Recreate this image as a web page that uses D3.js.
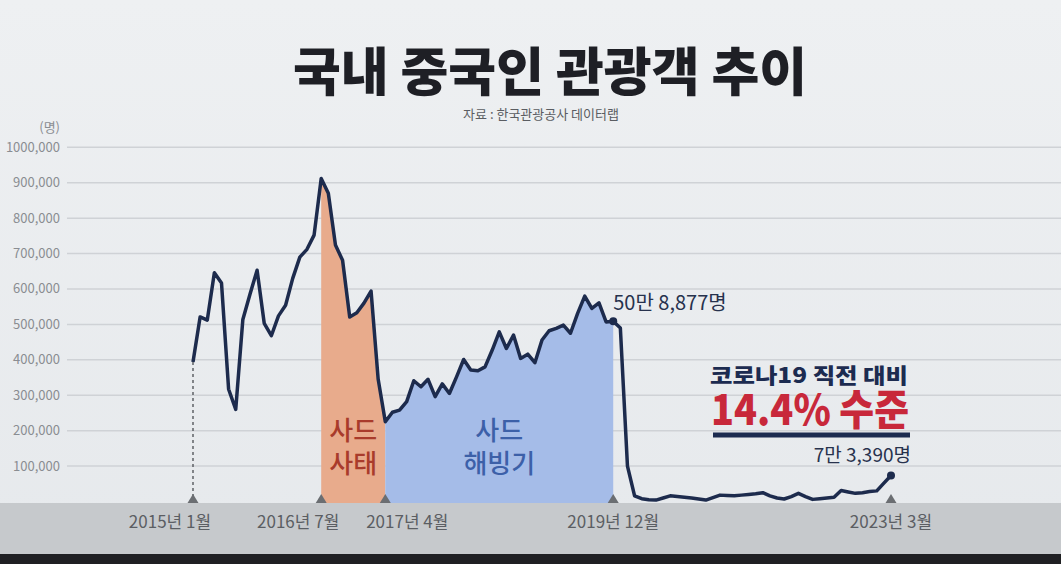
<!DOCTYPE html>
<html>
<head>
<meta charset="utf-8">
<script src="https://cdn.jsdelivr.net/npm/d3@7"></script>
<style>
  html, body { margin: 0; padding: 0; background: #e9ecef; }
  svg { display: block; font-family: "Noto Sans CJK KR", "Noto Sans", sans-serif; }
</style>
</head>
<body>
<svg id="chart" width="1061" height="564"></svg>
<script>
// DATA (월별 중국인 입국자, 2015년 1월 ~ 2023년 3월)
const startMonth = new Date(2015, 0, 1);
const visitors = [
  394000, 521000, 512000, 646000, 617000, 317000, 260000, 514000, 585000, 653000, 503000, 468000,
  524000, 554000, 630000, 690000, 712000, 752000, 912000, 870000, 724000, 681000, 521000, 533000,
  560000, 594000, 345000, 225000, 252000, 258000, 282000, 341000, 324000, 345000, 296000, 332000,
  305000, 352000, 401000, 371000, 369000, 380000, 427000, 479000, 432000, 470000, 404000, 416000,
  392000, 456000, 482000, 489000, 498000, 475000, 531000, 580000, 545000, 561000, 507000, 508877,
  490000, 100000, 16000, 8000, 5000, 4000, 10000, 16000, 14000, 12000, 10000, 7000,
  4000, 11000, 18000, 17000, 16000, 18000, 20000, 22000, 25000, 16000, 10000, 7000,
  14000, 23000, 14000, 6000, 8000, 10000, 12000, 31000, 27000, 23000, 25000, 28000,
  30000, 52000, 73390
];
const months = visitors.map((v, i) => d3.timeMonth.offset(startMonth, i));

const yTicks = [100000, 200000, 300000, 400000, 500000, 600000, 700000, 800000, 900000, 1000000];
const yTickLabels = ['100,000', '200,000', '300,000', '400,000', '500,000', '600,000', '700,000', '800,000', '900,000', '1000,000'];

const markMonths = ['2015-01', '2016-07', '2017-04', '2019-12', '2023-03'];
const markLabels = ['2015년 1월', '2016년 7월', '2017년 4월', '2019년 12월', '2023년 3월'];

// 구간 (사드 사태 / 사드 해빙기)
const periods = [
  { from: '2016-07', to: '2017-04', lines: ['사드', '사태'], fill: '#e8ab8c', text: '#a93b2b' },
  { from: '2017-04', to: '2019-12', lines: ['사드', '해빙기'], fill: '#a5bce8', text: '#3c60a8' }
];

const fmtKey = d3.timeFormat('%Y-%m');
const idxOf = key => months.findIndex(m => fmtKey(m) === key);

const svg = d3.select('#chart');
const W = 1061, H = 564;

const x = d3.scaleLinear().domain([0, visitors.length - 1]).range([193, 891]);
const y = d3.scaleLinear().domain([0, 1000000]).range([501.5, 147.3]);

// 배경
const grad = svg.append('defs').append('linearGradient')
  .attr('id', 'bg').attr('x1', 0).attr('y1', 0).attr('x2', 0).attr('y2', 1);
grad.append('stop').attr('offset', '0%').attr('stop-color', '#eef0f2');
grad.append('stop').attr('offset', '100%').attr('stop-color', '#e6e9ec');
svg.append('rect').attr('width', W).attr('height', H).attr('fill', 'url(#bg)');

// 제목
svg.append('text')
  .attr('x', 550).attr('y', 91)
  .attr('text-anchor', 'middle')
  .attr('font-size', 52).attr('font-weight', 900)
  .attr('fill', '#1e1f25')
  .text('국내 중국인 관광객 추이');

svg.append('text')
  .attr('x', 541).attr('y', 119)
  .attr('text-anchor', 'middle')
  .attr('font-size', 13)
  .attr('fill', '#5a5d62')
  .text('자료 : 한국관광공사 데이터랩');

// 그리드 + y축 라벨
const grid = svg.append('g');
grid.selectAll('line')
  .data(yTicks)
  .enter()
  .append('line')
  .attr('x1', 67).attr('x2', W)
  .attr('y1', d => y(d)).attr('y2', d => y(d))
  .attr('stroke', '#cfd2d6').attr('stroke-width', 1.5);

grid.selectAll('text')
  .data(yTicks)
  .enter()
  .append('text')
  .attr('x', 60).attr('y', d => y(d) + 4.5)
  .attr('text-anchor', 'end')
  .attr('font-size', 13)
  .attr('fill', '#8a8d92')
  .text((d, i) => yTickLabels[i]);

svg.append('text')
  .attr('x', 60).attr('y', 132)
  .attr('text-anchor', 'end')
  .attr('font-size', 13)
  .attr('fill', '#8a8d92')
  .text('(명)');

// 구간 채우기
const area = d3.area()
  .x(d => x(d.i))
  .y0(503)
  .y1(d => y(d.v));

periods.forEach(p => {
  const a = idxOf(p.from), b = idxOf(p.to);
  const pts = d3.range(a, b + 1).map(i => ({ i: i, v: visitors[i] }));
  svg.append('path')
    .attr('d', area(pts))
    .attr('fill', p.fill);

  // 두 줄 라벨
  const cx = (x(a) + x(b)) / 2;
  const label = svg.append('text')
    .attr('x', cx).attr('y', 440)
    .attr('text-anchor', 'middle')
    .attr('font-size', 26)
    .attr('font-weight', 500)
    .attr('fill', p.text);
  label.selectAll('tspan')
    .data(p.lines)
    .enter()
    .append('tspan')
    .attr('x', cx)
    .attr('dy', (d, k) => k === 0 ? 0 : 33)
    .text(d => d);
});

// 하단 띠
svg.append('rect').attr('x', 0).attr('y', 503).attr('width', W).attr('height', 51).attr('fill', '#c6c9cc');
svg.append('rect').attr('x', 0).attr('y', 554).attr('width', W).attr('height', 10).attr('fill', '#1f2023');

// 첫 달 점선
svg.append('line')
  .attr('x1', x(0)).attr('x2', x(0))
  .attr('y1', y(visitors[0])).attr('y2', 500)
  .attr('stroke', '#4a4d52').attr('stroke-width', 1.3)
  .attr('stroke-dasharray', '3,3');

// 추이 선
const line = d3.line()
  .x((d, i) => x(i))
  .y(d => y(d));

svg.append('path')
  .datum(visitors)
  .attr('d', line)
  .attr('fill', 'none')
  .attr('stroke', '#1d2b4d')
  .attr('stroke-width', 3.5)
  .attr('stroke-linejoin', 'round');

// 표시점
const dotIdx = [idxOf('2019-12'), visitors.length - 1];
svg.selectAll('circle.dot')
  .data(dotIdx)
  .enter()
  .append('circle')
  .attr('cx', i => x(i)).attr('cy', i => y(visitors[i]))
  .attr('r', 4)
  .attr('fill', '#1d2b4d');

// x축 삼각형 + 라벨
const labelShift = [-23, -23, 22, 0, 0];
markMonths.forEach((m, k) => {
  const px = x(idxOf(m));
  svg.append('path')
    .attr('d', `M${px - 5.5},503 L${px},494 L${px + 5.5},503 Z`)
    .attr('fill', '#6b6e72');
  svg.append('text')
    .attr('x', px + labelShift[k]).attr('y', 528)
    .attr('text-anchor', 'middle')
    .attr('font-size', 17)
    .attr('fill', '#5b5e63')
    .text(markLabels[k]);
});

// 주석
const fmtMan = v => {
  const man = Math.floor(v / 10000), rest = v % 10000;
  return `${man}만 ${d3.format(',')(rest)}명`;
};

const i59 = idxOf('2019-12');
svg.append('text')
  .attr('x', x(i59)).attr('y', 310)
  .attr('font-size', 20)
  .attr('fill', '#27324d')
  .text(fmtMan(visitors[i59]));

const last = visitors.length - 1;
svg.append('text')
  .attr('x', 911).attr('y', 462)
  .attr('text-anchor', 'end')
  .attr('font-size', 19)
  .attr('fill', '#27324d')
  .text(fmtMan(visitors[last]));

const ratio = visitors[last] / visitors[i59] * 100;

svg.append('text')
  .attr('x', 710).attr('y', 383)
  .attr('font-size', 21).attr('font-weight', 900)
  .attr('fill', '#1c2b50')
  .attr('textLength', 198).attr('lengthAdjust', 'spacingAndGlyphs')
  .text('코로나19 직전 대비');

svg.append('text')
  .attr('x', 711).attr('y', 425)
  .attr('font-size', 42).attr('font-weight', 900)
  .attr('fill', '#c8283a')
  .attr('textLength', 198).attr('lengthAdjust', 'spacingAndGlyphs')
  .text(`${d3.format('.1f')(ratio)}% 수준`);

svg.append('rect')
  .attr('x', 713).attr('y', 432.5)
  .attr('width', 197).attr('height', 5)
  .attr('fill', '#1c2b50');
</script>
</body>
</html>
